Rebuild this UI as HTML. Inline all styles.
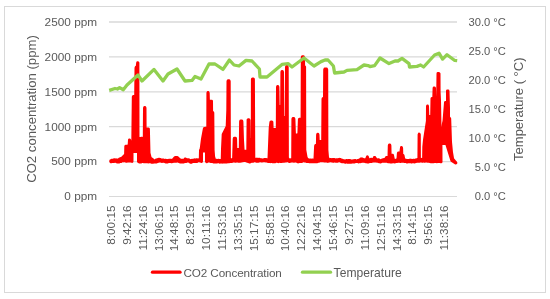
<!DOCTYPE html>
<html lang="en"><head><meta charset="utf-8"><title>CO2 Concentration and Temperature</title>
<style>html,body{margin:0;padding:0;background:#fff;}body{width:550px;height:299px;overflow:hidden;}svg{display:block;}text{font-family:"Liberation Sans", Arial, sans-serif;fill:#595959;}</style></head><body>
<svg width="550" height="299" viewBox="0 0 550 299">
<rect x="0" y="0" width="550" height="299" fill="#fff"/>
<rect x="4.5" y="6.5" width="541" height="286" fill="#fff" stroke="#D9D9D9" stroke-width="1"/>
<line x1="109.0" y1="22.00" x2="457.0" y2="22.00" stroke="#D9D9D9" stroke-width="1.3"/>
<line x1="109.0" y1="56.90" x2="457.0" y2="56.90" stroke="#D9D9D9" stroke-width="1.3"/>
<line x1="109.0" y1="91.80" x2="457.0" y2="91.80" stroke="#D9D9D9" stroke-width="1.3"/>
<line x1="109.0" y1="126.70" x2="457.0" y2="126.70" stroke="#D9D9D9" stroke-width="1.3"/>
<line x1="109.0" y1="161.60" x2="457.0" y2="161.60" stroke="#D9D9D9" stroke-width="1.3"/>
<line x1="109.0" y1="196.50" x2="457.0" y2="196.50" stroke="#D9D9D9" stroke-width="1"/>
<text x="97.1" y="25.80" font-size="11.8" text-anchor="end">2500 ppm</text>
<text x="97.1" y="60.70" font-size="11.8" text-anchor="end">2000 ppm</text>
<text x="97.1" y="95.60" font-size="11.8" text-anchor="end">1500 ppm</text>
<text x="97.1" y="130.50" font-size="11.8" text-anchor="end">1000 ppm</text>
<text x="97.1" y="165.40" font-size="11.8" text-anchor="end">500 ppm</text>
<text x="97.1" y="200.30" font-size="11.8" text-anchor="end">0 ppm</text>
<text x="505.9" y="25.90" font-size="11.2" text-anchor="end">30.0 °C</text>
<text x="505.9" y="54.98" font-size="11.2" text-anchor="end">25.0 °C</text>
<text x="505.9" y="84.07" font-size="11.2" text-anchor="end">20.0 °C</text>
<text x="505.9" y="113.15" font-size="11.2" text-anchor="end">15.0 °C</text>
<text x="505.9" y="142.23" font-size="11.2" text-anchor="end">10.0 °C</text>
<text x="505.9" y="171.32" font-size="11.2" text-anchor="end">5.0 °C</text>
<text x="505.9" y="200.40" font-size="11.2" text-anchor="end">0.0 °C</text>
<text transform="translate(35.6,109.0) rotate(-90)" font-size="13.16" text-anchor="middle">CO2 concentration (ppm)</text>
<text transform="translate(523.3,109.2) rotate(-90)" font-size="13.0" text-anchor="middle">Temperature ( °C)</text>
<text transform="translate(114.90,205.4) rotate(-90)" font-size="11.8" text-anchor="end">8:00:15</text>
<text transform="translate(130.77,205.4) rotate(-90)" font-size="11.8" text-anchor="end">9:42:16</text>
<text transform="translate(146.64,205.4) rotate(-90)" font-size="11.8" text-anchor="end">11:24:16</text>
<text transform="translate(162.51,205.4) rotate(-90)" font-size="11.8" text-anchor="end">13:06:15</text>
<text transform="translate(178.38,205.4) rotate(-90)" font-size="11.8" text-anchor="end">14:48:15</text>
<text transform="translate(194.25,205.4) rotate(-90)" font-size="11.8" text-anchor="end">8:29:15</text>
<text transform="translate(210.12,205.4) rotate(-90)" font-size="11.8" text-anchor="end">10:11:16</text>
<text transform="translate(225.99,205.4) rotate(-90)" font-size="11.8" text-anchor="end">11:53:16</text>
<text transform="translate(241.86,205.4) rotate(-90)" font-size="11.8" text-anchor="end">13:35:15</text>
<text transform="translate(257.73,205.4) rotate(-90)" font-size="11.8" text-anchor="end">15:17:15</text>
<text transform="translate(273.60,205.4) rotate(-90)" font-size="11.8" text-anchor="end">8:58:15</text>
<text transform="translate(289.47,205.4) rotate(-90)" font-size="11.8" text-anchor="end">10:40:16</text>
<text transform="translate(305.34,205.4) rotate(-90)" font-size="11.8" text-anchor="end">12:22:16</text>
<text transform="translate(321.21,205.4) rotate(-90)" font-size="11.8" text-anchor="end">14:04:15</text>
<text transform="translate(337.08,205.4) rotate(-90)" font-size="11.8" text-anchor="end">15:46:15</text>
<text transform="translate(352.95,205.4) rotate(-90)" font-size="11.8" text-anchor="end">9:27:15</text>
<text transform="translate(368.82,205.4) rotate(-90)" font-size="11.8" text-anchor="end">11:09:16</text>
<text transform="translate(384.69,205.4) rotate(-90)" font-size="11.8" text-anchor="end">12:51:16</text>
<text transform="translate(400.56,205.4) rotate(-90)" font-size="11.8" text-anchor="end">14:33:15</text>
<text transform="translate(416.43,205.4) rotate(-90)" font-size="11.8" text-anchor="end">8:14:15</text>
<text transform="translate(432.30,205.4) rotate(-90)" font-size="11.8" text-anchor="end">9:56:15</text>
<text transform="translate(448.17,205.4) rotate(-90)" font-size="11.8" text-anchor="end">11:38:16</text>
<path d="M110.7,161.5 L110.70,160.66 L111.80,160.56 L111.90,160.18 L112.40,160.07 L112.50,160.24 L113.00,160.13 L113.10,160.45 L114.20,160.28 L114.30,159.61 L116.00,159.81 L116.10,160.17 L116.60,160.24 L116.70,159.90 L117.20,159.97 L117.30,160.37 L117.80,160.44 L117.90,160.63 L118.40,160.70 L118.50,160.39 L119.00,160.28 L119.10,160.52 L119.30,159.04 L121.80,158.15 L125.30,154.72 L125.50,154.00 L125.70,146.21 L128.10,145.84 L128.90,145.22 L129.10,144.50 L129.40,139.90 L129.60,139.90 L130.20,141.72 L130.80,142.26 L131.90,142.31 L132.70,141.52 L133.20,97.02 L133.40,96.40 L134.50,96.37 L135.10,96.07 L135.50,95.52 L135.60,95.00 L135.90,68.02 L136.10,67.37 L136.70,67.07 L137.10,66.52 L137.60,62.60 L138.00,62.76 L138.10,137.00 L138.50,137.98 L139.40,138.40 L141.00,138.39 L141.70,138.07 L142.40,138.37 L143.20,138.37 L143.80,138.07 L144.20,137.52 L144.40,108.12 L144.60,107.40 L144.90,107.40 L145.10,108.12 L145.20,127.50 L145.40,128.22 L146.00,128.76 L148.40,128.90 L148.50,129.14 L149.10,153.00 L150.30,157.72 L152.50,159.59 L152.60,159.50 L152.70,159.99 L153.60,160.87 L154.40,161.03 L154.50,160.82 L155.60,160.67 L155.70,160.17 L159.20,159.13 L159.30,159.51 L159.80,159.59 L159.90,159.29 L160.40,159.37 L160.50,160.06 L161.00,160.14 L161.10,159.92 L161.70,159.90 L162.80,160.23 L162.90,159.85 L163.40,159.93 L163.50,160.53 L163.70,160.57 L165.20,160.46 L165.30,160.25 L165.80,160.27 L165.90,160.59 L167.60,160.50 L167.70,160.72 L168.20,160.74 L168.30,160.50 L168.80,160.49 L168.90,160.25 L170.00,160.40 L170.10,160.09 L171.20,160.07 L171.30,160.53 L172.30,160.57 L175.10,157.40 L177.40,157.40 L180.20,160.27 L180.30,160.17 L180.80,160.60 L180.90,160.19 L181.80,160.62 L182.00,160.58 L182.10,160.24 L182.60,160.13 L183.20,160.14 L183.30,160.57 L184.40,160.26 L184.80,159.94 L185.10,158.94 L185.30,159.52 L185.40,158.87 L185.80,159.95 L186.20,159.86 L186.30,160.10 L186.80,160.19 L186.90,159.75 L187.40,159.86 L187.50,159.56 L188.10,159.68 L189.20,159.93 L189.30,160.73 L189.80,160.83 L189.90,160.48 L190.90,160.94 L191.10,160.33 L192.20,160.26 L192.30,160.63 L193.40,160.66 L193.50,160.16 L194.60,159.77 L194.70,160.46 L195.20,160.40 L195.30,159.88 L195.80,159.82 L195.90,160.20 L196.40,160.15 L196.50,159.62 L197.00,159.56 L197.10,160.03 L197.70,160.08 L198.80,159.86 L198.90,159.52 L199.40,159.46 L199.50,159.77 L200.00,159.75 L200.20,158.68 L200.40,150.38 L201.10,148.80 L202.40,138.70 L204.30,128.54 L204.40,128.30 L207.00,127.91 L207.50,127.42 L207.70,126.70 L207.80,93.12 L208.00,92.40 L208.30,93.12 L208.50,100.22 L208.90,100.77 L209.40,101.04 L211.60,101.10 L211.70,111.00 L212.00,111.87 L212.80,112.37 L212.90,113.00 L213.20,150.00 L213.70,156.52 L214.80,160.42 L215.60,160.46 L215.70,160.06 L216.20,160.03 L216.30,160.67 L216.80,160.64 L216.90,160.36 L218.00,160.50 L218.10,160.04 L218.60,160.08 L218.70,160.74 L219.80,160.66 L219.90,160.31 L220.40,160.36 L220.50,160.90 L221.00,160.95 L221.10,160.74 L222.10,160.88 L222.40,148.80 L223.10,134.32 L227.00,126.52 L227.10,126.00 L227.70,110.00 L227.90,81.18 L228.10,80.70 L229.10,80.70 L229.30,81.18 L229.50,158.52 L230.00,159.85 L230.10,159.73 L230.30,160.07 L230.60,160.03 L230.70,159.68 L231.80,159.55 L231.90,159.94 L232.40,159.90 L232.50,159.48 L233.50,159.40 L234.10,139.06 L234.30,138.14 L235.50,138.14 L235.70,139.06 L235.90,148.00 L236.10,148.72 L237.00,149.37 L239.00,149.40 L239.70,149.15 L240.20,148.52 L240.50,121.60 L240.70,120.80 L241.80,120.80 L242.00,121.60 L242.60,140.00 L243.20,150.22 L243.60,150.77 L244.30,151.09 L246.50,151.09 L247.20,150.77 L247.60,150.22 L247.70,149.70 L248.00,119.84 L248.10,119.70 L248.90,119.70 L249.10,120.18 L249.30,138.52 L250.00,139.26 L251.00,139.39 L251.90,138.87 L252.20,138.00 L252.30,79.20 L252.50,78.80 L253.30,78.80 L253.50,79.20 L253.90,158.52 L254.30,159.52 L254.40,158.79 L254.70,159.43 L255.30,159.57 L255.80,159.59 L255.90,159.09 L256.40,159.11 L256.50,159.44 L257.00,159.46 L257.10,159.10 L257.60,159.12 L257.70,159.33 L258.20,159.35 L258.30,159.76 L258.80,159.77 L258.90,159.21 L259.40,159.22 L259.50,159.43 L260.00,159.44 L260.10,160.05 L261.20,160.06 L261.30,159.63 L261.80,159.64 L261.90,159.87 L263.60,159.69 L263.70,160.04 L264.20,160.07 L264.30,159.47 L264.80,159.50 L264.90,160.08 L265.40,160.11 L265.50,159.42 L266.00,159.45 L266.10,160.18 L267.20,160.08 L267.30,159.88 L268.30,160.08 L268.90,158.00 L270.10,128.00 L270.80,122.20 L271.00,121.80 L271.80,121.80 L272.00,122.20 L272.20,128.00 L272.30,128.52 L272.70,129.07 L273.50,129.40 L276.10,129.37 L276.90,128.87 L277.20,128.00 L277.40,87.12 L277.60,86.40 L277.80,86.40 L278.00,87.12 L278.30,105.52 L279.10,106.31 L280.40,106.39 L281.30,105.87 L281.60,105.00 L281.80,72.12 L282.00,71.40 L282.40,71.40 L282.60,72.12 L282.80,116.00 L283.10,116.87 L284.00,117.39 L285.30,117.31 L286.10,116.52 L286.40,67.12 L286.60,66.40 L287.10,66.40 L287.30,67.12 L287.50,158.00 L287.90,159.52 L288.00,158.52 L288.30,159.77 L289.40,159.76 L289.50,159.93 L290.60,160.08 L290.70,160.25 L291.20,160.22 L291.30,159.43 L291.80,159.40 L292.00,159.88 L292.20,159.29 L292.30,159.52 L292.60,158.00 L292.80,119.12 L293.00,118.40 L293.80,118.40 L294.00,119.12 L294.50,133.92 L294.90,134.47 L295.40,134.74 L297.60,134.79 L298.50,134.27 L298.80,133.40 L299.30,119.52 L299.40,119.20 L300.80,119.19 L301.40,118.95 L301.80,118.52 L302.00,117.80 L302.20,57.42 L302.40,56.70 L303.40,56.70 L303.60,57.42 L303.70,65.40 L303.90,66.12 L304.60,66.71 L304.70,67.00 L304.90,150.00 L306.20,157.52 L308.20,160.47 L308.60,160.53 L308.70,159.98 L309.20,160.00 L309.30,160.35 L309.80,160.36 L309.90,160.77 L310.40,160.78 L310.50,159.95 L311.60,160.21 L311.70,160.59 L312.20,160.61 L312.30,159.99 L312.80,160.01 L312.90,160.63 L313.40,160.60 L313.50,160.44 L314.60,160.50 L314.80,160.25 L315.50,146.12 L315.70,145.40 L316.40,145.31 L317.00,144.87 L317.30,144.00 L317.50,134.82 L317.70,134.10 L317.90,134.10 L318.10,134.82 L318.30,140.00 L318.60,140.87 L319.40,141.37 L321.40,141.40 L322.10,141.15 L322.60,140.52 L322.90,99.12 L323.10,98.40 L324.10,97.87 L324.40,97.00 L324.60,69.72 L324.80,69.00 L326.60,69.00 L326.80,69.72 L327.00,150.00 L327.60,157.00 L328.20,159.52 L328.30,158.55 L328.50,159.44 L329.00,159.94 L329.10,159.60 L329.60,159.62 L329.70,159.79 L330.20,159.79 L330.30,159.42 L332.60,159.61 L332.70,159.28 L333.20,159.28 L333.30,159.85 L333.80,159.85 L333.90,159.42 L334.40,159.43 L334.50,159.81 L335.70,159.90 L336.20,159.90 L336.30,159.54 L337.40,159.54 L337.50,159.95 L338.00,159.95 L338.10,159.63 L338.60,159.62 L338.70,159.42 L339.20,159.42 L339.30,160.08 L339.80,160.08 L340.00,159.30 L340.40,159.40 L340.50,160.19 L341.00,160.32 L341.10,159.82 L342.20,160.17 L342.30,160.72 L342.80,160.85 L342.90,160.40 L344.00,160.92 L344.10,160.68 L344.60,160.77 L344.70,161.21 L345.80,160.97 L345.90,160.75 L346.40,160.72 L346.50,160.36 L347.00,160.33 L347.10,160.57 L347.70,160.64 L348.80,160.39 L348.90,160.60 L349.40,160.61 L349.50,160.33 L350.00,160.34 L350.10,160.60 L351.90,160.88 L353.00,160.91 L353.10,160.64 L354.20,160.65 L354.30,161.01 L354.80,160.98 L354.90,160.52 L355.40,160.49 L355.50,160.81 L356.00,160.78 L356.10,161.00 L357.20,160.87 L357.30,160.53 L357.80,160.50 L357.90,160.28 L358.40,160.23 L358.50,160.49 L359.60,160.40 L360.60,158.99 L360.70,159.49 L361.20,158.82 L361.70,158.80 L362.20,159.56 L362.30,158.83 L363.20,159.44 L363.30,159.94 L364.40,160.44 L364.50,159.76 L365.60,159.74 L365.70,160.34 L366.10,160.07 L367.40,156.80 L368.00,158.52 L368.40,159.07 L368.90,159.34 L370.50,159.67 L371.00,159.67 L371.10,159.13 L372.20,159.39 L373.30,158.95 L373.40,159.57 L373.80,159.02 L374.30,157.46 L374.90,157.40 L375.60,159.22 L375.80,159.49 L375.90,158.81 L376.70,160.11 L377.60,160.23 L377.70,159.95 L378.20,160.04 L378.30,159.59 L378.80,159.68 L378.90,160.40 L380.00,160.72 L381.80,160.17 L381.90,160.48 L382.40,160.39 L382.50,159.82 L383.00,159.73 L383.10,160.31 L383.60,160.23 L383.70,159.96 L384.20,159.88 L384.30,159.48 L384.80,159.40 L384.90,160.05 L385.20,160.00 L385.60,158.72 L385.70,159.32 L386.40,157.40 L388.10,157.31 L388.90,156.52 L389.20,145.52 L389.40,144.80 L389.80,144.80 L390.00,145.52 L390.20,154.32 L391.00,155.11 L392.60,155.20 L393.50,159.52 L393.80,160.02 L393.90,159.79 L394.20,160.21 L394.40,160.20 L394.50,160.74 L395.60,160.56 L395.70,160.31 L396.20,160.23 L396.30,160.00 L397.80,159.92 L398.30,153.12 L398.40,152.80 L400.10,152.71 L400.80,152.12 L401.40,147.40 L401.70,148.12 L401.90,154.52 L402.40,155.15 L403.10,155.40 L403.90,159.23 L404.00,158.74 L404.20,159.98 L404.60,160.09 L404.70,160.47 L405.80,160.62 L405.90,160.26 L407.00,160.31 L407.10,160.71 L407.60,160.75 L407.70,160.46 L409.40,160.55 L409.50,160.05 L410.00,160.04 L410.10,160.70 L410.60,160.69 L410.70,160.05 L411.20,160.04 L411.30,160.41 L411.80,160.41 L411.90,160.75 L412.40,160.74 L412.50,160.40 L413.00,160.38 L413.10,160.19 L413.60,160.16 L413.70,160.50 L414.80,160.60 L414.90,160.34 L415.40,160.32 L415.50,159.82 L416.00,159.79 L416.10,160.51 L416.60,160.49 L416.70,159.72 L417.20,159.68 L417.30,160.25 L418.40,160.32 L418.80,159.02 L419.00,134.72 L419.20,134.00 L419.40,134.72 L419.50,159.00 L419.60,159.52 L419.70,159.17 L420.10,159.96 L420.30,159.47 L421.40,159.42 L421.50,159.27 L423.50,159.46 L423.70,147.00 L424.40,140.00 L427.30,121.00 L427.40,106.22 L427.50,105.92 L427.60,106.22 L427.90,115.52 L428.50,116.21 L429.30,116.40 L430.80,116.31 L431.60,115.52 L431.90,98.40 L433.00,98.26 L433.70,97.52 L434.00,87.92 L434.50,87.92 L434.60,88.22 L434.90,102.52 L435.40,103.15 L436.20,103.40 L437.00,103.15 L437.50,102.52 L437.90,73.40 L438.90,73.40 L439.10,73.72 L439.20,92.00 L439.60,100.00 L440.10,127.00 L440.30,127.72 L441.00,128.32 L441.10,160.85 L441.10,161.88 L440.00,161.54 L438.90,161.52 L437.80,161.64 L436.70,161.73 L435.60,161.19 L434.50,161.68 L433.40,161.84 L432.30,161.79 L431.20,161.94 L430.10,161.57 L429.00,161.31 L427.90,161.35 L426.80,161.04 L425.70,161.15 L424.60,161.38 L423.50,160.95 L422.40,161.37 L421.30,161.01 L420.20,160.90 L419.10,161.40 L418.00,161.36 L416.90,161.40 L415.80,161.61 L414.70,162.04 L413.60,161.90 L412.50,161.59 L411.40,162.13 L410.30,161.55 L409.20,161.75 L408.10,161.74 L407.00,162.16 L405.90,161.28 L404.80,161.69 L403.70,161.48 L402.60,161.12 L401.50,161.44 L400.40,161.51 L399.30,161.41 L398.20,160.91 L397.10,161.66 L396.00,161.48 L394.90,162.06 L393.80,161.95 L392.70,161.59 L391.60,162.16 L390.50,162.04 L389.40,161.92 L388.30,161.85 L387.20,161.47 L386.10,160.93 L385.00,161.47 L383.90,161.16 L382.80,161.33 L381.70,161.33 L380.60,162.03 L379.50,161.97 L378.40,161.40 L377.30,161.47 L376.20,160.87 L375.10,161.01 L374.00,161.06 L372.90,161.18 L371.80,161.51 L370.70,161.48 L369.60,161.45 L368.50,162.13 L367.40,162.01 L366.30,161.95 L365.20,161.56 L364.10,161.21 L363.00,161.47 L361.90,161.28 L360.80,161.83 L359.70,161.24 L358.60,162.03 L357.50,161.49 L356.40,161.68 L355.30,161.63 L354.20,162.09 L353.10,161.99 L352.00,161.93 L350.90,162.41 L349.80,162.06 L348.70,162.33 L347.60,162.37 L346.50,162.00 L345.40,162.32 L344.30,161.96 L343.20,161.82 L342.10,161.80 L341.00,161.43 L339.90,160.79 L338.80,160.79 L337.70,161.34 L336.60,161.29 L335.50,161.25 L334.40,160.89 L333.30,161.33 L332.20,161.16 L331.10,160.80 L330.00,160.82 L328.90,161.19 L327.80,161.48 L326.70,161.17 L325.60,160.88 L324.50,161.13 L323.40,160.64 L322.30,160.91 L321.20,160.82 L320.10,160.69 L319.00,161.26 L317.90,161.43 L316.80,161.88 L315.70,161.79 L314.60,161.54 L313.50,161.89 L312.40,161.60 L311.30,161.89 L310.20,161.82 L309.10,161.80 L308.00,161.34 L306.90,161.55 L305.80,161.18 L304.70,161.11 L303.60,160.42 L302.50,161.26 L301.40,161.71 L300.30,161.70 L299.20,161.57 L298.10,161.99 L297.00,161.49 L295.90,161.06 L294.80,161.13 L293.70,161.37 L292.60,160.82 L291.50,161.23 L290.40,161.34 L289.30,161.50 L288.20,160.69 L287.10,160.97 L286.00,161.06 L284.90,161.10 L283.80,161.42 L282.70,161.42 L281.60,161.56 L280.50,161.58 L279.40,161.20 L278.30,161.73 L277.20,161.43 L276.10,161.08 L275.00,161.82 L273.90,161.80 L272.80,161.87 L271.70,161.39 L270.60,161.80 L269.50,161.40 L268.40,161.67 L267.30,161.05 L266.20,161.13 L265.10,160.88 L264.00,160.75 L262.90,160.94 L261.80,161.22 L260.70,160.97 L259.60,160.85 L258.50,161.33 L257.40,161.13 L256.30,161.29 L255.20,160.71 L254.10,160.60 L253.00,161.44 L251.90,160.95 L250.80,161.73 L249.70,162.08 L248.60,161.69 L247.50,161.32 L246.40,160.90 L245.30,160.59 L244.20,160.44 L243.10,160.79 L242.00,160.99 L240.90,160.89 L239.80,161.47 L238.70,161.44 L237.60,160.82 L236.50,161.02 L235.40,161.28 L234.30,161.15 L233.20,161.07 L232.10,161.57 L231.00,161.44 L229.90,161.67 L228.80,161.94 L227.70,161.72 L226.60,162.14 L225.50,161.84 L224.40,162.18 L223.30,161.89 L222.20,162.31 L221.10,161.84 L220.00,162.23 L218.90,161.49 L217.80,161.84 L216.70,162.03 L215.60,162.12 L214.50,161.92 L213.40,162.00 L212.30,161.51 L211.20,161.68 L210.10,161.33 L209.00,160.85 L207.90,161.10 L206.80,161.72 L206.40,161.50 L206.39,151.70 L205.80,151.10 L202.20,151.10 L201.61,151.70 L201.60,161.50 L201.30,161.29 L200.20,161.05 L199.10,160.97 L198.00,160.77 L196.90,161.52 L195.80,161.31 L194.70,161.51 L193.60,161.64 L192.50,161.54 L191.40,162.35 L190.30,162.30 L189.20,161.31 L188.10,161.11 L187.00,161.14 L185.90,161.58 L184.80,161.42 L183.70,162.02 L182.60,161.80 L181.50,162.03 L180.40,162.05 L179.30,161.68 L178.20,161.16 L177.10,161.11 L176.00,161.39 L174.90,161.36 L173.80,161.34 L172.70,161.49 L171.60,161.92 L170.50,161.52 L169.40,161.51 L168.30,161.61 L167.20,162.13 L166.10,162.09 L165.00,161.63 L163.90,161.38 L162.80,161.40 L161.70,161.57 L160.60,161.14 L159.50,161.21 L158.40,161.41 L157.30,161.70 L156.20,162.11 L155.10,162.15 L154.00,161.93 L152.90,162.31 L151.80,162.38 L150.70,162.01 L149.60,161.58 L148.50,162.03 L147.40,161.93 L146.30,161.83 L145.20,161.60 L144.10,161.90 L143.00,161.42 L141.90,161.77 L140.80,162.16 L139.70,162.17 L138.40,161.50 L138.39,152.20 L137.80,151.60 L132.70,151.60 L132.11,152.20 L132.10,161.50 L130.90,161.07 L129.80,161.12 L128.70,161.07 L127.60,161.16 L126.50,161.38 L125.40,160.90 L124.30,160.75 L123.20,161.01 L122.10,160.66 L121.00,161.66 L119.90,161.55 L118.80,162.19 L117.70,162.12 L116.60,161.84 L115.50,161.17 L114.40,161.48 L113.30,161.42 L112.20,161.54 L111.10,161.95 Z" fill="#FF0000" stroke="#FF0000" stroke-width="2.8" stroke-linejoin="round" stroke-linecap="round"/>
<path d="M445.4,102.5 L447.4,102.5 L447.4,91 L448.1,91 L448.6,108 L448.6,117 L449.8,118.5 L450.6,142 L451.6,152.3 L452.7,158.8 L456,162.9 L455.6,163.1 L451.8,160.6 L446.8,144.6 L446.5,143.6 L442.3,143.6 L442.3,128 L443.9,121 Z" fill="#FF0000" stroke="#FF0000" stroke-width="2.8" stroke-linejoin="round" stroke-linecap="round"/>
<polyline points="109.2,90.3 115,88.5 117.4,89 119.6,87.6 123.3,89.7 127,85 138,75 142,81 154,69.4 163,81 168,74 177,69 185,81 192,80.4 195,76.4 201,79 209,64 215,64 223,69.4 229.4,60 234,65 239,66 246,60.4 252,61 259.4,69 260,77 267,77 282,64.4 288,63.6 292,67 304,58 314,66 321,61.6 325,60 328,60 333.4,66 334.6,73 344,72 347,70.4 357,69.6 364,65 368,65.6 370,66.6 374.6,65.6 380,58 389,63.6 395,61 398,61 402,58.4 409,63.6 409.5,67 417,66.4 420.6,65 423.6,67 434.6,55 439,53.2 442.6,59.1 447,54.7 454.4,60.3 457.2,60.6" fill="none" stroke="#92D050" stroke-width="3.3" stroke-linejoin="round" stroke-linecap="butt"/>
<line x1="152.5" y1="272.2" x2="180" y2="272.2" stroke="#FF0000" stroke-width="3.3" stroke-linecap="round"/>
<text x="183.5" y="276.6" font-size="11.7" textLength="98.3" lengthAdjust="spacing">CO2 Concentration</text>
<line x1="302.5" y1="272.2" x2="330.5" y2="272.2" stroke="#92D050" stroke-width="3.3" stroke-linecap="round"/>
<text x="333.6" y="276.6" font-size="12.1" textLength="68.2" lengthAdjust="spacing">Temperature</text>
</svg></body></html>
